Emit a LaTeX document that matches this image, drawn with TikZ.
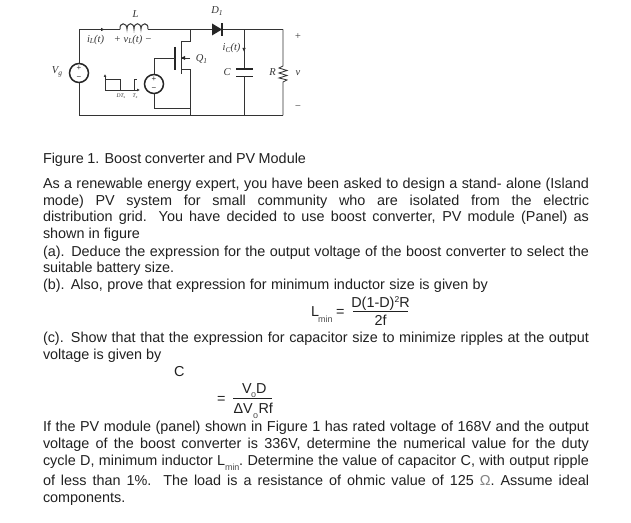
\documentclass[tikz,border=0pt]{standalone}
\usepackage{fontspec}
\setmainfont{Liberation Sans}
\newfontfamily\serifcirc{Liberation Serif}
\usetikzlibrary{arrows.meta}
\definecolor{ink}{gray}{0.13}
\definecolor{wire}{gray}{0.2}
\newcommand{\ci}[1]{{\serifcirc\itshape #1}}
\newcommand{\cs}[1]{\raisebox{-1.5bp}{\fontsize{7.5bp}{8bp}\selectfont\serifcirc\itshape #1}}
\tikzset{
  x=1bp,y=-1bp,
  line/.style={anchor=base west,inner sep=0pt,outer sep=0pt,text=ink,font=\fontsize{14.4bp}{16bp}\selectfont},
  subs/.style={anchor=base west,inner sep=0pt,outer sep=0pt,text=ink!80,font=\fontsize{9bp}{10bp}\selectfont},
  clabel/.style={inner sep=0pt,outer sep=0pt,text=wire,font=\fontsize{10.5bp}{11bp}\selectfont},
  tiny/.style={inner sep=0pt,outer sep=0pt,text=wire,font=\fontsize{5.5bp}{6bp}\selectfont},
  signmark/.style={inner sep=0pt,outer sep=0pt,text=wire,font=\fontsize{8bp}{8bp}\selectfont},
  wirepath/.style={draw=wire,line width=0.85bp},
  source/.style={circle,draw=black!85,line width=1.5bp,minimum size=19bp,inner sep=0pt,fill=white},
  bar/.style={draw=ink,line width=0.8bp},
  head/.style={-{Latex[length=4bp,width=3.5bp]},draw=wire,line width=0.85bp}
}
\newcommand{\jline}[2]{\node[line] at (43,#1) {\makebox[546bp][s]{#2}};}
\begin{document}
\begin{tikzpicture}
\useasboundingbox (0,0) rectangle (631,523);
\fill[white] (0,0) rectangle (631,523);
% circuit
\coordinate (tl) at (78,29.5);
\coordinate (bl) at (78,115.5);
\coordinate (lin) at (120,29.5);
\coordinate (lout) at (148,29.5);
\coordinate (j) at (190,29.5);
\coordinate (da) at (212,29.5);
\coordinate (dk) at (222,29.5);
\coordinate (ct) at (244,29.5);
\coordinate (rt) at (283,29.5);
\coordinate (cb) at (244,115.5);
\coordinate (rb) at (283,115.5);
\coordinate (jb) at (190,115.5);
\coordinate (jd) at (190,41);
\coordinate (js) at (190,69);
\coordinate (jg) at (190,108);
\node[source] (vg) at (79,73) {};
\node[source] (vp) at (154,84) {};
\node[signmark] at (79,68.5) {+};
\node[signmark] at (79,78) {−};
\node[signmark] at (154,79.5) {+};
\node[signmark] at (154,89) {−};
\draw[wirepath] (vg.north) -- (vg.north |- tl) -- (lin);
\draw[wirepath] (vg.south) -- (vg.south |- bl) -- (jb) -- (cb) -- (rb);
\draw[wirepath,line width=1bp] (lin) .. controls (119,22) and (127,22) .. (127,29)
  .. controls (127,22) and (134,22) .. (134,29)
  .. controls (134,22) and (141,22) .. (141,29)
  .. controls (141,22) and (149,22) .. (lout);
\draw[wirepath] (lout) -- (da);
\draw[wirepath] (dk) -- (rt);
\fill[black!85] (da) ++(0,-6) -- ++(0,12) -- (dk) -- cycle;
\draw[black!85,line width=1.1bp] (222,23.5) -- (222,36);
\draw[head] (98,29.5) -- (105,29.5);
% MOSFET
\draw[wirepath] (j) -- (jd) -- (181,41);
\draw[wirepath] (181,41) -- (181,74);
\draw[wirepath] (181,69) -- (js) -- (jb);
\draw[draw=black!85,line width=1.5bp] (175,47) -- (175,70);
\draw[wirepath] (vp.north) -- (154,58) -- (175,58);
\draw[wirepath] (190,58) -- (181,58);
\fill[black!85] (181,58) -- (185,56) -- (185,60) -- cycle;
\draw[wirepath] (vp.south) -- (154,108) -- (jg);
% pulse
\draw[draw=wire,line width=0.6bp,-{Latex[length=3bp,width=3bp]}] (105,91) -- (105,74);
\draw[draw=wire,line width=0.6bp,-{Latex[length=3bp,width=3bp]}] (105,90) -- (140,90);
\draw[draw=wire,line width=0.6bp] (105,79) -- (120,79) -- (120,90);
\draw[draw=wire,line width=0.6bp] (134,90) -- (134,79) -- (137,79);
% capacitor, resistor
\draw[wirepath] (ct) -- (244,69);
\draw[head] (244,44) -- (244,52);
\draw[draw=black!85,line width=1.3bp] (236,69) -- (253,69);
\draw[draw=black!85,line width=1.3bp] (236,76.5) -- (253,76.5);
\draw[wirepath] (244,76.5) -- (cb);
\draw[wirepath] (rt) -- (283,66) -- (279,68) -- (287,70.5) -- (279,73) -- (287,75.5) -- (279,78) -- (287,80) -- (283,82) -- (rb);
% circuit labels
\begin{scope}[every node/.append style={clabel}]
\node at (135.5,14) {\ci{L}};
\node at (217,11) {\ci{D}\cs{1}};
\node at (95.5,39.5) {\ci{i}\cs{L}\ci{(t)}};
\node at (133,39.5) {\ci{+ v}\cs{L}\ci{(t) −}};
\node at (231.5,48) {\ci{i}\cs{C}\ci{(t)}};
\node at (201.5,59) {\ci{Q}\cs{1}};
\node at (227,72) {\ci{C}};
\node at (272.5,72) {\ci{R}};
\node at (298,73) {\ci{v}};
\node at (57,72) {\ci{V}\cs{g}};
\node at (298,37) {\ci{+}};
\node at (298,108) {\ci{−}};
\end{scope}
\node[tiny] at (121,96) {\ci{DT}\raisebox{-1bp}{\fontsize{4bp}{4bp}\selectfont\ci{s}}};
\node[tiny] at (135,96) {\ci{T}\raisebox{-1bp}{\fontsize{4bp}{4bp}\selectfont\ci{s}}};
% text
\node[line] at (43,164) {\makebox[263bp][s]{Figure 1. Boost converter and PV Module}};
\jline{189}{As a renewable energy expert, you have been asked to design a stand- alone (Island}
\jline{206}{mode) PV system for small community who are isolated from the electric}
\jline{222}{distribution grid. You have decided to use boost converter, PV module (Panel) as}
\node[line] at (43,239) {shown in figure};
\jline{256}{(a). Deduce the expression for the output voltage of the boost converter to select the}
\node[line] at (43,272) {suitable battery size.};
\node[line] at (43,289) {\makebox[445bp][s]{(b). Also, prove that expression for minimum inductor size is given by}};
\node[line] (lmin) at (311,316) {L};
\node[subs] at (318,322) {min};
\node[line] at (336,316) {=};
\node[line,anchor=base] (n1) at (380.5,307) {D(1-D)\raisebox{5bp}{\fontsize{8.5bp}{9bp}\selectfont 2}R};
\node[line,anchor=base] (d1) at (380.5,325) {2f};
\draw[bar] (353,311) -- (408,311);
\jline{342}{(c). Show that that the expression for capacitor size to minimize ripples at the output}
\node[line] at (43,359) {voltage is given by};
\node[line] at (174,376) {C};
\node[line] at (217,403) {=};
\node[line] at (242,393) {V};
\node[subs] at (251,397) {o};
\node[line] at (256,393) {D};
\draw[bar] (233,398) -- (272,398);
\node[line] at (233.5,413) {ΔV};
\node[subs] at (253,418) {o};
\node[line] at (258.5,413) {Rf};
\jline{431}{If the PV module (panel) shown in Figure 1 has rated voltage of 168V and the output}
\jline{448}{voltage of the boost converter is 336V, determine the numerical value for the duty}
\node[line] at (43,465) {\makebox[546bp][s]{cycle D, minimum inductor L\hspace{14bp}. Determine the value of capacitor C, with output ripple}};
\node[subs] at (225,470) {min};
\jline{485}{of less than 1\%.\ \ The load is a resistance of ohmic value of 125 {\color{ink!55}Ω}. Assume ideal}
\node[line] at (43,502) {components.};
\end{tikzpicture}
\end{document}
